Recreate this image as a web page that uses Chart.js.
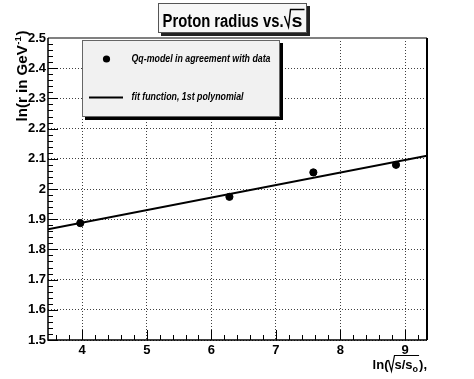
<!DOCTYPE html>
<html><head><meta charset="utf-8">
<script src="https://cdn.jsdelivr.net/npm/chart.js@4/dist/chart.umd.min.js"></script>
<style>html,body{margin:0;padding:0;background:#fff}canvas{display:block}</style>
</head><body>
<canvas id="c" width="474" height="379"></canvas>
<script>
// ---- data ----
const qqX = [3.97, 6.28, 7.58, 8.86];
const qqY = [1.887, 1.974, 2.055, 2.080];
const fitX = [3.47, 9.34];
const fitY = [1.867, 2.110];
const xTicks = [4, 5, 6, 7, 8, 9];
const yTicks = [1.5, 1.6, 1.7, 1.8, 1.9, 2.0, 2.1, 2.2, 2.3, 2.4, 2.5];
const yTickLabels = ['1.5', '1.6', '1.7', '1.8', '1.9', '2', '2.1', '2.2', '2.3', '2.4', '2.5'];
const seriesLabels = ['Qq-model in agreement with data', 'fit function, 1st polynomial'];
const titleText = 'Proton radius vs.';
const titleRootArg = 's';
const yTitleParts = ['ln(r in GeV', '-1', ')'];
const xTitleParts = ['ln(', 's/s', 'o', '),'];

const FONT = '"Liberation Sans", Arial, Helvetica, sans-serif';

function fitText(ctx, s, x, y, font, targetW) {
  ctx.save();
  ctx.font = font; ctx.textAlign = 'left'; ctx.textBaseline = 'alphabetic';
  const w = ctx.measureText(s).width;
  const sx = targetW ? targetW / w : 1;
  ctx.translate(x, y); ctx.scale(sx, 1); ctx.fillText(s, 0, 0);
  ctx.restore();
  return w * sx;
}
function measure(ctx, s, font) { ctx.save(); ctx.font = font; const w = ctx.measureText(s).width; ctx.restore(); return w; }

const decor = {
  id: 'decor',
  afterDraw(chart) {
    const ctx = chart.ctx, a = chart.chartArea, xs = chart.scales.x, ys = chart.scales.y;
    ctx.save();
    ctx.fillStyle = '#000'; ctx.strokeStyle = '#000';
    // inward tick marks
    ctx.lineWidth = 1;
    ctx.beginPath();
    for (let i = 18; i <= 46; i++) {
      const v = i / 5; const len = (i % 5 === 0) ? 10 : 5;
      const px = Math.round(xs.getPixelForValue(v)) + 0.5;
      ctx.moveTo(px, a.bottom); ctx.lineTo(px, a.bottom - len);
    }
    for (let i = 75; i <= 125; i++) {
      const v = i / 50; const len = (i % 5 === 0) ? 10 : 5;
      const py = Math.round(ys.getPixelForValue(v)) + 0.5;
      ctx.moveTo(a.left, py); ctx.lineTo(a.left + len, py);
    }
    ctx.stroke();
    // frame
    ctx.lineWidth = 2; ctx.strokeStyle = '#808080';
    ctx.beginPath(); ctx.moveTo(a.left, a.top); ctx.lineTo(a.right, a.top); ctx.stroke();
    ctx.strokeStyle = '#000';
    ctx.beginPath(); ctx.moveTo(a.right, a.top); ctx.lineTo(a.right, a.bottom); ctx.stroke();
    ctx.lineWidth = 1.5;
    ctx.beginPath(); ctx.moveTo(a.left, a.top); ctx.lineTo(a.left, a.bottom); ctx.lineTo(a.right, a.bottom); ctx.stroke();

    // legend box
    const L = {x1: 82, y1: 40, x2: 280, y2: 117};
    ctx.fillStyle = '#000';
    ctx.fillRect(L.x1 + 3, L.y1 + 3, L.x2 - L.x1, L.y2 - L.y1);
    ctx.fillStyle = '#f1f1f1';
    ctx.fillRect(L.x1, L.y1, L.x2 - L.x1, L.y2 - L.y1);
    ctx.lineWidth = 1; ctx.strokeStyle = '#666';
    ctx.strokeRect(L.x1 + 0.5, L.y1 + 0.5, L.x2 - L.x1 - 1, L.y2 - L.y1 - 1);
    ctx.fillStyle = '#000';
    ctx.beginPath(); ctx.arc(106.5, 59, 3.6, 0, Math.PI * 2); ctx.fill();
    fitText(ctx, chart.data.datasets[0].label, 131.5, 62, 'italic bold 10px ' + FONT, 139);
    ctx.lineWidth = 2; ctx.strokeStyle = '#000';
    ctx.beginPath(); ctx.moveTo(89, 97.5); ctx.lineTo(123, 97.5); ctx.stroke();
    fitText(ctx, chart.data.datasets[1].label, 131.5, 99.5, 'italic bold 10px ' + FONT, 112);

    // title box
    const T = {x1: 158, y1: 3, x2: 307, y2: 33};
    ctx.fillStyle = '#222';
    ctx.fillRect(T.x1 + 3, T.y1 + 3, T.x2 - T.x1, T.y2 - T.y1);
    ctx.fillStyle = '#f7f7f7';
    ctx.fillRect(T.x1, T.y1, T.x2 - T.x1, T.y2 - T.y1);
    ctx.lineWidth = 1; ctx.strokeStyle = '#555';
    ctx.strokeRect(T.x1 + 0.5, T.y1 + 0.5, T.x2 - T.x1 - 1, T.y2 - T.y1 - 1);
    ctx.fillStyle = '#000';
    const tw = fitText(ctx, titleText, 162.5, 26.5, 'bold 18px ' + FONT, 121);
    let rx = 162.5 + tw + 1;
    ctx.lineWidth = 1.4; ctx.strokeStyle = '#000';
    ctx.beginPath();
    ctx.moveTo(rx, 16); ctx.lineTo(rx + 4, 27); ctx.lineTo(rx + 6, 9.5); ctx.lineTo(rx + 20, 9.5);
    ctx.stroke();
    fitText(ctx, titleRootArg, rx + 7, 26.5, 'bold 18px ' + FONT, 11);

    // x axis title: ln(sqrt(s/s_o)),
    const fB = 'bold 13px ' + FONT, fS = 'bold 9px ' + FONT;
    const w1 = measure(ctx, xTitleParts[0], fB), w2 = measure(ctx, xTitleParts[1], fB),
          w3 = measure(ctx, xTitleParts[2], fS), w4 = measure(ctx, xTitleParts[3], fB);
    const rad = 6;
    const total = w1 + rad + w2 + w3 + 1 + w4;
    let xx = a.right - total;
    const by = 369;
    fitText(ctx, xTitleParts[0], xx, by, fB); xx += w1;
    ctx.lineWidth = 1.2;
    ctx.beginPath();
    ctx.moveTo(xx, 360); ctx.lineTo(xx + 3, 371); ctx.lineTo(xx + rad, 355.5);
    ctx.lineTo(xx + rad + w2 + w3 + 1, 355.5);
    ctx.stroke();
    xx += rad;
    fitText(ctx, xTitleParts[1], xx, by, fB); xx += w2;
    fitText(ctx, xTitleParts[2], xx, by + 3, fS); xx += w3 + 1;
    fitText(ctx, xTitleParts[3], xx, by, fB);

    // y axis title (rotated)
    const fY = 'bold 14px ' + FONT, fYs = 'bold 9px ' + FONT;
    const yw1 = measure(ctx, yTitleParts[0], fY), yw2 = measure(ctx, yTitleParts[1], fYs), yw3 = measure(ctx, yTitleParts[2], fY);
    const ytot = yw1 + yw2 + 1 + yw3;
    const s = 91 / ytot;
    ctx.save();
    ctx.translate(27, 121.5);
    ctx.rotate(-Math.PI / 2);
    ctx.scale(s, 1);
    fitText(ctx, yTitleParts[0], 0, 0, fY);
    fitText(ctx, yTitleParts[1], yw1 + 0.5, -6, fYs);
    fitText(ctx, yTitleParts[2], yw1 + yw2 + 1, 0, fY);
    ctx.restore();

    ctx.restore();
  }
};

const gridStyle = { color: 'rgba(0,0,0,0.75)', lineWidth: 1, drawTicks: false };

new Chart(document.getElementById('c'), {
  type: 'scatter',
  data: {
    datasets: [
      {
        label: seriesLabels[0],
        data: qqX.map((x, i) => ({x: x, y: qqY[i]})),
        pointRadius: 3.6, pointHoverRadius: 3.6,
        backgroundColor: '#000', borderColor: '#000', showLine: false
      },
      {
        label: seriesLabels[1],
        data: fitX.map((x, i) => ({x: x, y: fitY[i]})),
        pointRadius: 0, showLine: true, borderColor: '#000', borderWidth: 2, fill: false
      }
    ]
  },
  options: {
    responsive: false, animation: false, devicePixelRatio: 1,
    layout: { padding: { left: 0, top: 38, right: 47, bottom: 0 } },
    plugins: { legend: { display: false }, title: { display: false }, tooltip: { enabled: false } },
    scales: {
      x: {
        type: 'linear', min: 3.47, max: 9.34,
        afterBuildTicks: (sc) => { sc.ticks = xTicks.map(v => ({value: v})); },
        afterFit: (sc) => { sc.height = 39; },
        grid: gridStyle,
        border: { display: false, dash: [1, 2] },
        ticks: { color: '#000', font: { family: FONT, size: 13, weight: 'bold' }, padding: 3, maxRotation: 0,
                 callback: (v) => String(v) }
      },
      y: {
        type: 'linear', min: 1.5, max: 2.5,
        afterBuildTicks: (sc) => { sc.ticks = yTicks.map(v => ({value: v})); },
        afterFit: (sc) => { sc.width = 48; },
        grid: gridStyle,
        border: { display: false, dash: [1, 2] },
        ticks: { color: '#000', font: { family: FONT, size: 13, weight: 'bold' }, padding: 2,
                 callback: (v) => { const i = yTicks.findIndex(t => Math.abs(t - v) < 1e-6); return i >= 0 ? yTickLabels[i] : ''; } }
      }
    }
  },
  plugins: [decor]
});
</script>
</body></html>
